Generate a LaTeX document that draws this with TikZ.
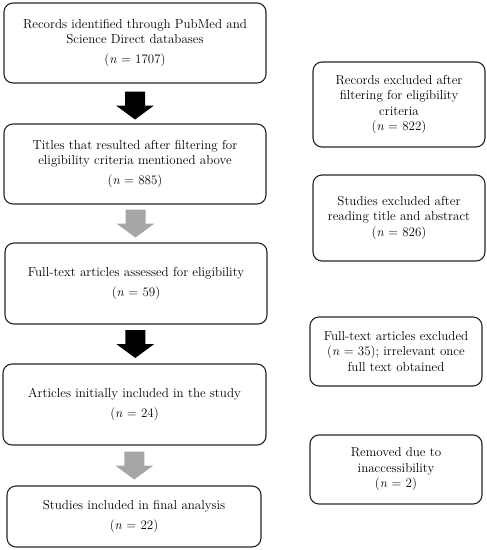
\documentclass[tikz,border=0pt]{standalone}
\usetikzlibrary{calc}
\begin{document}
\begin{tikzpicture}[x=1pt,y=-1pt,
  box/.style={draw=black!85, line width=1.1pt, rounded corners=9pt, align=center, inner sep=0pt,
    font=\fontsize{13}{15.5}\selectfont},
  blockarrow/.pic={\fill[pic actions] (-10,-14) -- (10,-14) -- (10,0) -- (19,0) -- (0,14) -- (-19,0) -- (-10,0) -- cycle;}]
\useasboundingbox (0,0) rectangle (487,550);
% left column
\node[box, minimum width=262pt, minimum height=80pt] (b1) at (135,43)
  {Records identified through PubMed and\\Science Direct databases\\[4pt](\textit{n} = 1707)};
\node[box, minimum width=262pt, minimum height=80pt] (b2) at (135,164)
  {Titles that resulted after filtering for\\eligibility criteria mentioned above\\[4pt](\textit{n} = 885)};
\node[box, minimum width=262pt, minimum height=81pt] (b3) at (136,283.5)
  {Full-text articles assessed for eligibility\\[4pt](\textit{n} = 59)};
\node[box, minimum width=263pt, minimum height=81pt] (b4) at (134.5,404.5)
  {Articles initially included in the study\\[4pt](\textit{n} = 24)};
\node[box, minimum width=254pt, minimum height=61pt] (b5) at (134,516.5)
  {Studies included in final analysis\\[4pt](\textit{n} = 22)};
% right column
\node[box, minimum width=172pt, minimum height=85pt] (r1) at (399,104.5)
  {Records excluded after\\filtering for eligibility\\criteria\\(\textit{n} = 822)};
\node[box, minimum width=172pt, minimum height=86pt] (r2) at (399,218)
  {Studies excluded after\\reading title and abstract\\(\textit{n} = 826)};
\node[box, minimum width=172pt, minimum height=69pt] (r3) at (396,351.5)
  {Full-text articles excluded\\(\textit{n} = 35); irrelevant once\\full text obtained};
\node[box, minimum width=172pt, minimum height=69pt] (r4) at (396,469.5)
  {Removed due to\\inaccessibility\\(\textit{n} = 2)};
% block arrows
\pic[fill=black] at ($(b1.south)!0.5!(b2.north)+(0,2)$) {blockarrow};
\pic[fill=black!35] at ($(b2.south)!0.5!(b3.north)$) {blockarrow};
\pic[fill=black] at ($(b3.south)!0.5!(b4.north)$) {blockarrow};
\pic[fill=black!35] at ($(b4.south)!0.5!(b5.north)$) {blockarrow};
\end{tikzpicture}
\end{document}
